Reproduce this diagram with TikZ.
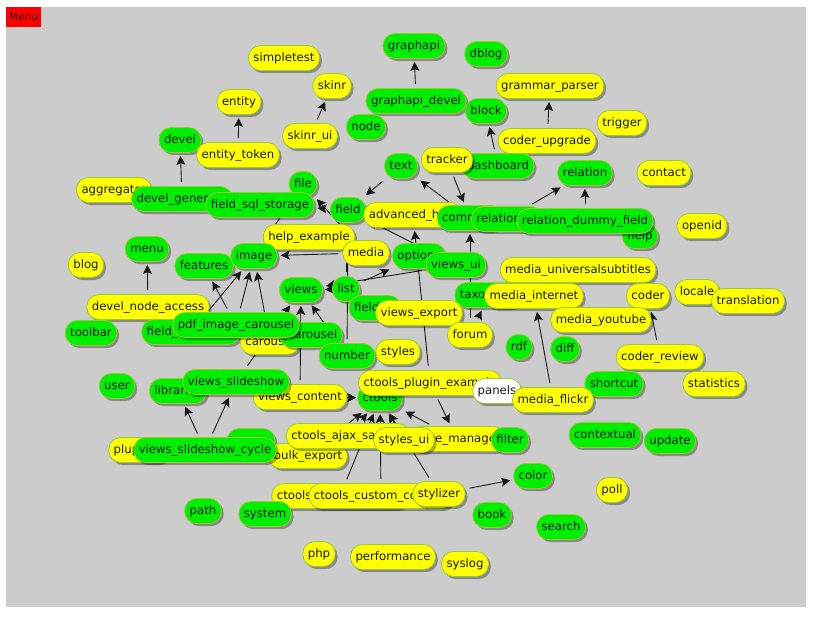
\documentclass[tikz,border=0pt]{standalone}
\usepackage{fontspec}
\setmainfont{DejaVu Sans}
\usetikzlibrary{arrows.meta,shadows}
\definecolor{bgc}{HTML}{CCCCCC}
\definecolor{ylw}{HTML}{FFFF00}
\definecolor{grn}{HTML}{00EE00}
\definecolor{bord}{HTML}{99CC33}
\definecolor{txt}{HTML}{1A1A1A}
\definecolor{menured}{HTML}{FF0000}
\pgfdeclarelayer{back}
\pgfsetlayers{back,main}
\begin{document}
\begin{tikzpicture}[x=1pt,y=-1pt,
  nd/.style={draw=bord, line width=0.8pt, rounded corners=12pt, minimum height=25pt,
    inner xsep=5pt, inner ysep=0pt, text height=8.8pt, text depth=2.6pt,
    font=\fontsize{11.7}{13}\selectfont, text=txt,
    drop shadow={shadow xshift=2.4pt, shadow yshift=-2.6pt, fill=black, opacity=0.32}},
  yn/.style={nd, fill=ylw},
  gn/.style={nd, fill=grn},
  wn/.style={nd, fill=white},
  arr/.style={-{Stealth[length=9pt,width=9pt,inset=1.8pt]}, line width=0.9pt, draw=black!90,
    shorten >=3pt, shorten <=4pt}]
\useasboundingbox (0,0) rectangle (814,619);

% ---------- nodes (bottom first) ----------
\node[yn] (simpletest) at (284,58) {simpletest};
\node[gn] (graphapi) at (414,46) {graphapi};
\node[gn] (dblog) at (486,54) {dblog};
\node[yn] (skinr) at (332,86) {skinr};
\node[yn] (grammarparser) at (550,86) {grammar\_parser};
\node[yn] (entity) at (239,102) {entity};
\node[gn] (graphapidevel) at (416,101) {graphapi\_devel};
\node[gn] (block) at (486,111) {block};
\node[gn] (nodemod) at (366,127) {node};
\node[yn] (trigger) at (622,123) {trigger};
\node[gn] (devel) at (180,140) {devel};
\node[yn] (skinrui) at (310,136) {skinr\_ui};
\node[yn] (coderupgrade) at (547,141) {coder\_upgrade};
\node[yn] (entitytoken) at (238,155) {entity\_token};
\node[gn] (text) at (401,166) {text};
\node[gn] (dashboard) at (498,166) {dashboard};
\node[yn] (tracker) at (447,160) {tracker};
\node[gn] (relation) at (585,173) {relation};
\node[yn] (contact) at (664,173) {contact};
\node[yn] (aggregator) at (114,190) {aggregator};
\node[gn] (develgenerate) at (182,199) {devel\_generate};
\node[gn] (file) at (303,184) {file};
\node[gn] (fieldsql) at (260,205) {field\_sql\_storage};
\node[gn] (field) at (348,210) {field};
\node[yn] (advhelp) at (413,215) {advanced\_help};
\node[gn] (comment) at (470,218) {comment};
\node[gn] (relationui) at (507,219) {relation\_ui};
\node[gn] (help) at (640,236) {help};
\node[gn] (relationdummy) at (585,221) {relation\_dummy\_field};
\node[yn] (openid) at (702,226) {openid};
\node[yn] (helpexample) at (309,237) {help\_example};
\node[yn] (media) at (366,253) {media};
\node[gn] (menu) at (147,249) {menu};
\node[yn] (blog) at (86,265) {blog};
\node[gn] (features) at (204,266) {features};
\node[gn] (image) at (254,256) {image};
\node[gn] (options) at (419,256) {options};
\node[gn] (viewsui) at (456,265) {views\_ui};
\node[yn] (mediauni) at (578,270) {media\_universalsubtitles};
\node[gn] (views) at (301,290) {views};
\node[gn] (list) at (346,289) {list};
\node[gn] (taxonomy) at (489,295) {taxonomy};
\node[yn] (mediainternet) at (534,296) {media\_internet};
\node[yn] (coder) at (648,296) {coder};
\node[yn] (locale) at (697,292) {locale};
\node[yn] (translation) at (748,301) {translation};
\node[yn] (mediayoutube) at (601,320) {media\_youtube};
\node[yn] (develnodeaccess) at (148,307) {devel\_node\_access};
\node[gn] (toolbar) at (91,333) {toolbar};
\node[gn] (fieldslideshow) at (191,332) {field\_slideshow};
\node[yn] (carousel) at (270,342) {carousel};
\node[gn] (jcarousel) at (311,335) {jcarousel};
\node[gn] (pdfimage) at (236,325) {pdf\_image\_carousel};
\node[gn] (fieldui) at (375,308) {field\_ui};
\node[yn] (viewsexport) at (419,313) {views\_export};
\node[yn] (forum) at (470,335) {forum};
\node[gn] (number) at (347,356) {number};
\node[yn] (styles) at (398,352) {styles};
\node[gn] (rdf) at (519,347) {rdf};
\node[gn] (diff) at (565,349) {diff};
\node[yn] (coderreview) at (660,357) {coder\_review};
\node[yn] (statistics) at (714,384) {statistics};
\node[gn] (shortcut) at (614,384) {shortcut};
\node[gn] (user) at (117,386) {user};
\node[gn] (libraries) at (178,391) {libraries};
\node[yn] (viewscontent) at (300,397) {views\_content};
\node[gn] (viewsslideshow) at (236,382) {views\_slideshow};
\node[gn] (ctools) at (380,398) {ctools};
\node[yn] (ctoolsplugin) at (430,383) {ctools\_plugin\_example};
\node[wn] (panels) at (497,391) {panels};
\node[yn] (mediaflickr) at (553,400) {media\_flickr};
\node[gn] (contextual) at (605,435) {contextual};
\node[gn] (update) at (670,441) {update};
\node[yn] (plupload) at (139,450) {plupload};
\node[gn, minimum width=48pt] (hiddeng) at (251,441) {};
\node[yn] (bulkexport) at (308,456) {bulk\_export};
\node[gn] (vscycle) at (205,450) {views\_slideshow\_cycle};
\node[yn] (pagemanager) at (457,439) {page\_manager};
\node[yn] (ajaxsample) at (348,436) {ctools\_ajax\_sample};
\node[yn] (stylesui) at (404,440) {styles\_ui};
\node[gn] (filter) at (510,440) {filter};
\node[gn] (color) at (533,476) {color};
\node[yn] (accessruleset) at (340,496) {ctools\_access\_ruleset};
\node[yn] (customcontent) at (381,496) {ctools\_custom\_content};
\node[yn] (stylizer) at (439,494) {stylizer};
\node[yn] (poll) at (612,490) {poll};
\node[gn] (book) at (492,515) {book};
\node[gn] (search) at (561,527) {search};
\node[gn] (path) at (203,511) {path};
\node[gn] (system) at (265,514) {system};
\node[yn] (php) at (319,554) {php};
\node[yn] (performance) at (393,557) {performance};
\node[yn] (syslog) at (465,564) {syslog};

\node[fill=menured, minimum width=35pt, minimum height=20pt, inner sep=0pt,
  font=\fontsize{10.5}{12}\selectfont, text=black!75!red] (menubtn) at (23.5,17) {Menu};

% ---------- background and connectors ----------
\begin{pgfonlayer}{back}
\fill[white] (0,0) rectangle (814,619);
\fill[bgc] (6,7) rectangle (806,607);
\draw[arr] (graphapidevel) -- (graphapi);
\draw[arr] (skinrui) -- (skinr);
\draw[arr] (entitytoken) -- (entity);
\draw[arr] (develgenerate) -- (devel);
\draw[arr] (coderupgrade) -- (grammarparser);
\draw[arr] (dashboard) -- (block);
\draw[arr] (relationdummy) -- (relation);
\draw[arr] (relationui) -- (relation);
\draw[arr] (tracker) -- (comment);
\draw[arr] (comment) -- (text);
\draw[arr] (text) -- (field);
\draw[arr] (field) -- (fieldsql);
\draw[arr] (media) -- (file);
\draw[arr] (image) -- (file);
\draw[arr] (media) -- (image);
\draw[arr] (develnodeaccess) -- (menu);
\draw[arr] (fieldslideshow) -- (image);
\draw[arr] (pdfimage) -- (image);
\draw[arr] (carousel) -- (image);
\draw[arr] (pdfimage) -- (features);
\draw[arr, shorten <=0pt, shorten >=2pt] (list) -- (views);
\draw[arr] (viewsui) -- (views);
\draw[arr] (list) -- (options);
\draw[arr] (viewsui) -- (field);
\draw[arr] (ctoolsplugin) -- (advhelp);
\draw[arr] (forum) -- (comment);
\draw[arr] (forum) -- (taxonomy);
\draw[arr] (mediaflickr) -- (mediainternet);
\draw[arr] (coderreview) -- (coder);
\draw[arr] (stylizer) -- (color);
\draw[arr, shorten <=0pt, shorten >=1pt] (viewscontent) -- (ctools);
\draw[arr] (bulkexport) -- (ctools);
\draw[arr] (ajaxsample) -- (ctools);
\draw[arr] (accessruleset) -- (ctools);
\draw[arr] (customcontent) -- (ctools);
\draw[arr] (stylizer) -- (ctools);
\draw[arr] (stylesui) -- (ctools);
\draw[arr] (pagemanager) -- (ctools);
\draw[arr] (ctoolsplugin) -- (pagemanager);
\draw[arr] (vscycle) -- (libraries);
\draw[arr] (vscycle) -- (viewsslideshow);
\draw[arr] (viewsslideshow) -- (views);
\draw[arr] (viewscontent) -- (views);
\draw[arr] (number) -- (views);
\draw[arr] (number) -- (field);
\draw[arr] (list) -- (field);
\end{pgfonlayer}
\end{tikzpicture}
\end{document}
